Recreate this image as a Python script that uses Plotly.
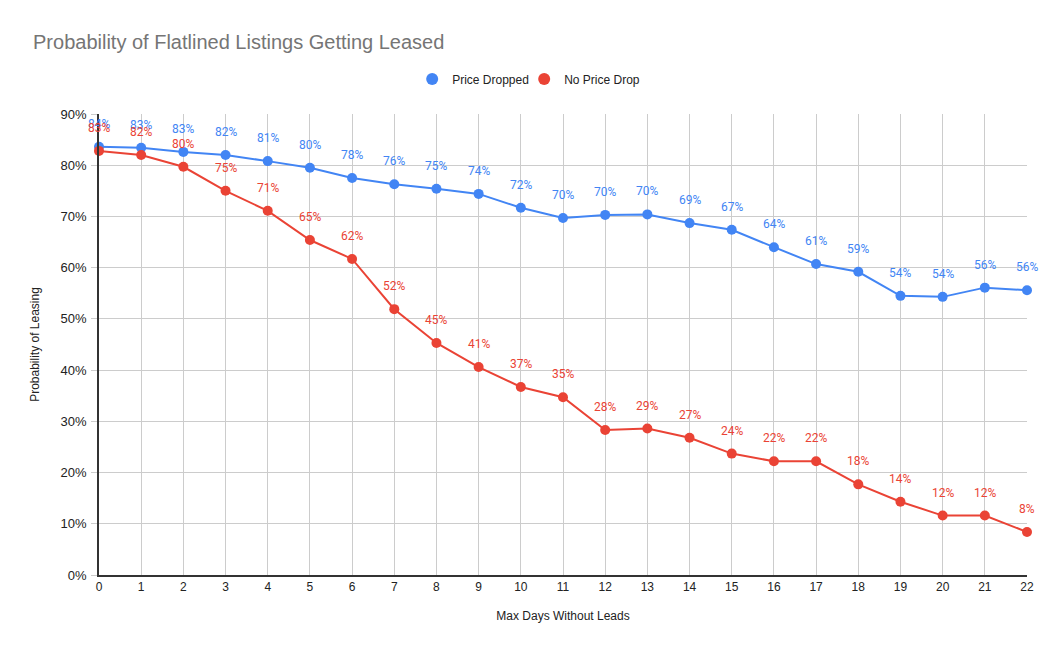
import plotly.graph_objects as go

days = list(range(23))
price_dropped = [83.6, 83.4, 82.6, 82.0, 80.8, 79.5, 77.5, 76.3, 75.4, 74.4, 71.7, 69.7,
                 70.3, 70.4, 68.7, 67.4, 64.0, 60.7, 59.2, 54.5, 54.3, 56.1, 55.6]
no_price_drop = [82.8, 82.0, 79.7, 75.0, 71.1, 65.4, 61.7, 51.9, 45.3, 40.6, 36.7, 34.7,
                 28.3, 28.6, 26.8, 23.7, 22.2, 22.2, 17.7, 14.3, 11.6, 11.6, 8.4]
y_ticks = [0, 10, 20, 30, 40, 50, 60, 70, 80, 90]
y_tick_labels = [f"{v}%" for v in y_ticks]

BLUE = "#4285F4"
RED = "#EA4335"
FONT = "Liberation Sans, Arial"

fig = go.Figure()
series = [("Price Dropped", price_dropped, BLUE), ("No Price Drop", no_price_drop, RED)]
for name, vals, col in series:
    fig.add_trace(go.Scatter(
        x=days, y=vals, name=name, mode="lines+markers",
        line=dict(color=col, width=2),
        marker=dict(color=col, size=10),
        showlegend=False, cliponaxis=False,
    ))
# legend entries: circles only
for name, vals, col in series:
    fig.add_trace(go.Scatter(
        x=[None], y=[None], name=name, mode="markers",
        marker=dict(color=col, size=12), showlegend=True,
    ))
# invisible spacer entry so the last legend label is not clipped
fig.add_trace(go.Scatter(
    x=[None], y=[None], name=" ", mode="markers",
    marker=dict(color="rgba(0,0,0,0)", size=1), showlegend=True, hoverinfo="skip",
))

annotations = []
for name, vals, col in series:
    for d, v in zip(days, vals):
        annotations.append(dict(
            x=d, y=v, xref="x", yref="y", text=f"{round(v)}%", showarrow=False,
            yanchor="bottom", yshift=14,
            font=dict(family="Roboto", size=12, color=col),
        ))

fig.update_layout(
    width=1060, height=656,
    paper_bgcolor="white", plot_bgcolor="white",
    margin=dict(l=91, r=41, t=106, b=89),
    annotations=annotations,
    title=dict(text="Probability of Flatlined Listings Getting Leased",
               x=0.0236, xanchor="left", y=0.948, yanchor="middle",
               font=dict(family=FONT, size=20, color="#757575")),
    legend=dict(orientation="h", x=0.5185, xanchor="center", y=1.076, yanchor="middle",
                itemwidth=30, entrywidth=67, entrywidthmode="pixels",
                itemclick=False, itemdoubleclick=False,
                font=dict(family=FONT, size=12, color="#222222")),
    font=dict(family=FONT, size=12, color="#222222"),
)
fig.update_xaxes(
    range=[0, 22], tickmode="array", tickvals=days, ticktext=[str(d) for d in days],
    showgrid=True, gridcolor="#cccccc", gridwidth=1,
    showline=True, linecolor="#333333", linewidth=1.5,
    zeroline=False, ticks="",
    title=dict(text="Max Days Without Leads", standoff=18,
               font=dict(family=FONT, size=12, color="#222222")),
    tickfont=dict(size=12, color="#222222"),
)
fig.update_yaxes(
    range=[0, 90], tickmode="array", tickvals=y_ticks, ticktext=y_tick_labels,
    showgrid=True, gridcolor="#cccccc", gridwidth=1,
    showline=True, linecolor="#333333", linewidth=1.5,
    zeroline=False, ticks="outside", ticklen=6, tickcolor="#cccccc", tickwidth=1,
    ticklabelstandoff=2,
    title=dict(text="Probability of Leasing", standoff=18,
               font=dict(family=FONT, size=12, color="#222222")),
    tickfont=dict(size=13, color="#222222"),
)

fig.write_html("out.html")
